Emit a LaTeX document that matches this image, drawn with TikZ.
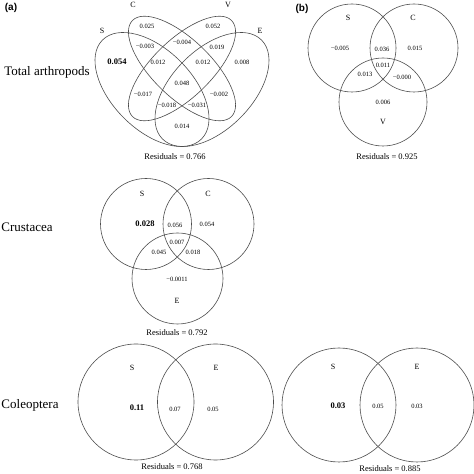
\documentclass[tikz,border=0pt]{standalone}
\usepackage{fontspec}
\setmainfont{Liberation Serif}
\newfontfamily\panelfont{Liberation Sans}
\begin{document}
\begin{tikzpicture}[x=1pt,y=1pt,line width=0.6pt]
\tikzstyle{venn}=[draw=black!70]
\tikzstyle{val}=[font=\fontsize{6.5}{7}\selectfont,inner sep=0.5pt]
\tikzstyle{big}=[font=\fontsize{8.5}{9}\selectfont\bfseries,inner sep=0.5pt]
\tikzstyle{set}=[font=\fontsize{8}{9}\selectfont,inner sep=0.5pt]
\tikzstyle{res}=[font=\fontsize{8.5}{9}\selectfont,inner sep=0.5pt]
\tikzstyle{row}=[font=\fontsize{13}{14}\selectfont,inner sep=0.5pt]
\tikzstyle{panel}=[font=\panelfont\fontsize{10}{11}\selectfont\bfseries,inner sep=0.5pt]
\useasboundingbox (0,0) rectangle (474,474);
% panel (a), total arthropods
\draw[venn,rotate around={-45:(152,384.5)}] (152,384.5) ellipse [x radius=70,y radius=40];
\draw[venn,rotate around={-44:(182,405.5)}] (182,405.5) ellipse [x radius=69,y radius=29];
\draw[venn,rotate around={44:(182,405.5)}] (182,405.5) ellipse [x radius=69,y radius=29];
\draw[venn,rotate around={45:(212,384.5)}] (212,384.5) ellipse [x radius=70,y radius=40];
\node[panel] (pa) at (11,466) {(a)};
\node[row] (r1) at (47,402) {Total arthropods};
\node[set] (a1) at (102,443) {S};
\node[set] (a2) at (133,469) {C};
\node[set] (a3) at (228,469) {V};
\node[set] (a4) at (260,443) {E};
\node[val] (a5) at (147,448) {0.025};
\node[val] (a6) at (213,448) {0.052};
\node[val] (a7) at (182,432) {−0.004};
\node[val] (a8) at (145,428) {−0.003};
\node[val] (a9) at (217,427) {0.019};
\node[big] (a10) at (117,412) {0.054};
\node[val] (a11) at (158,412) {0.012};
\node[val] (a12) at (203,412) {0.012};
\node[val] (a13) at (242,412) {0.008};
\node[val] (a14) at (182,391) {0.048};
\node[val] (a15) at (143,380) {−0.017};
\node[val] (a16) at (219,380) {−0.002};
\node[val] (a17) at (167,369) {−0.018};
\node[val] (a18) at (197,369) {−0.031};
\node[val] (a19) at (182,348) {0.014};
\node[res] (a20) at (175,317) {Residuals = 0.766};
% panel (b), total arthropods
\draw[venn] (352,426) circle (44);
\draw[venn] (414,426) circle (44);
\draw[venn] (383,372) circle (44);
\node[panel] (pb) at (302,465) {(b)};
\node[set] (b1) at (348,456) {S};
\node[set] (b2) at (413,456) {C};
\node[val] (b3) at (340,426) {−0.005};
\node[val] (b4) at (382,425) {0.036};
\node[val] (b5) at (415,426) {0.015};
\node[val] (b6) at (383,409) {0.011};
\node[val] (b7) at (365,400) {0.013};
\node[val] (b8) at (402,397) {−0.000};
\node[val] (b9) at (383,372) {0.006};
\node[set] (b10) at (383,352) {V};
\node[res] (b11) at (387,317) {Residuals = 0.925};
% crustacea
\draw[venn] (146,250) circle (45.5);
\draw[venn] (208.5,250) circle (45.5);
\draw[venn] (177.5,195.5) circle (45.5);
\node[row] (r2) at (27,247) {Crustacea};
\node[set] (c1) at (142,280) {S};
\node[set] (c2) at (208,280) {C};
\node[big] (c3) at (145,250) {0.028};
\node[val] (c4) at (175,249) {0.056};
\node[val] (c5) at (207,250) {0.054};
\node[val] (c6) at (177,232) {0.007};
\node[val] (c7) at (159,222) {0.045};
\node[val] (c8) at (193,222) {0.018};
\node[val] (c9) at (177,195) {−0.0011};
\node[set] (c10) at (177,173) {E};
\node[res] (c11) at (177,141) {Residuals = 0.792};
% coleoptera
\draw[venn] (136,72) circle (58);
\draw[venn] (215.5,72) circle (58);
\draw[venn] (339,69) circle (57);
\draw[venn] (417,69) circle (57);
\node[row] (r3) at (30,69) {Coleoptera};
\node[set] (d1) at (132,106) {S};
\node[set] (d2) at (216,106) {E};
\node[big] (d3) at (137,66) {0.11};
\node[val] (d4) at (175,65) {0.07};
\node[val] (d5) at (213,65) {0.05};
\node[res] (d6) at (172,7) {Residuals = 0.768};
\node[set] (e1) at (333,107) {S};
\node[set] (e2) at (417,107) {E};
\node[big] (e3) at (338,68) {0.03};
\node[val] (e4) at (378,68) {0.05};
\node[val] (e5) at (417,68) {0.03};
\node[res] (e6) at (390,5) {Residuals = 0.885};
\end{tikzpicture}
\end{document}
